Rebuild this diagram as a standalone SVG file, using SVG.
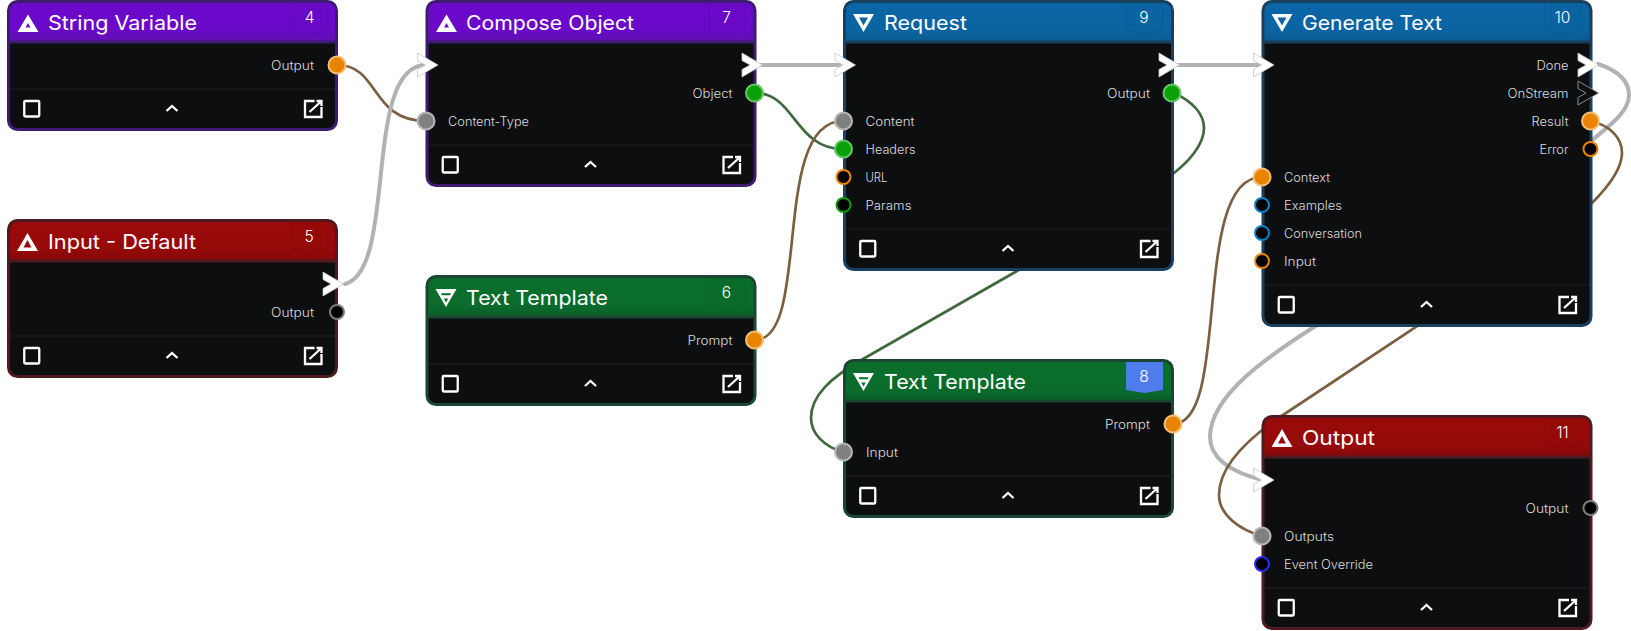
<svg xmlns="http://www.w3.org/2000/svg" width="1631" height="631" viewBox="0 0 1631 631">
<style>
text{font-family:"Inter","Noto Sans","Liberation Sans",sans-serif}
.t{font-size:20px;fill:#fff;font-weight:400}
.n{font-size:15.500px;fill:#fff;text-anchor:middle;font-weight:300}
.l{font-size:12.500px;fill:#dcdcdc;font-weight:300}
.r{text-anchor:end}
.w{fill:none;stroke-linecap:round}
.ex{stroke:#b2b2b2;stroke-width:4}
.br{stroke:#7a6042;stroke-width:2.700}
.gr{stroke:#42683f;stroke-width:2.700}
.body{fill:#0c0e10}
.frame{fill:none;stroke-width:3}
.div{stroke:#1e2126;stroke-width:1}
.ic{fill:none;stroke:#fff;stroke-width:2.300}
.tri{fill:#fff;fill-rule:evenodd}
.arrow{fill:#fff;stroke:#c8c8c8;stroke-width:.8;stroke-linejoin:round}
.arrow.off{fill:#0c0e10;stroke:#8a8a8a;stroke-width:1}
.po{fill:#e88400;stroke:#f6bd75;stroke-width:2}
.pg{fill:#0aa00a;stroke:#69c469;stroke-width:2}
.pa{fill:#808080;stroke:#b8b8b8;stroke-width:2}
.so{fill:#000;stroke:#e88400;stroke-width:2}
.sb{fill:#000;stroke:#0a84c8;stroke-width:2}
.sg{fill:#000;stroke:#0a9a0a;stroke-width:2}
.sv{fill:#000;stroke:#2b2bff;stroke-width:2}
.sa{fill:#000;stroke:#7c7c7c;stroke-width:2}
.purple .h{fill:url(#gp)}.purple .frame,.purple .sep{stroke:#3d1c70}
.red .h{fill:url(#gr)}.red .frame,.red .sep{stroke:#4e1a20}
.green .h{fill:url(#gg)}.green .frame,.green .sep{stroke:#1c4630}
.blue .h{fill:url(#gb)}.blue .frame,.blue .sep{stroke:#1a3f5c}
.b{fill:#000;fill-opacity:.012;stroke:#000;stroke-opacity:.05}
.sep{stroke-width:3}
.b8{fill:#4f7cec;stroke:none}
</style>
<defs>
<linearGradient id="gp" x1="0" y1="0" x2="0" y2="1"><stop offset="0" stop-color="#6c09cc"/><stop offset=".7" stop-color="#6a0ac8"/><stop offset="1" stop-color="#5f0fb0"/></linearGradient>
<linearGradient id="gr" x1="0" y1="0" x2="0" y2="1"><stop offset="0" stop-color="#9a0a0a"/><stop offset=".7" stop-color="#960a0a"/><stop offset="1" stop-color="#840808"/></linearGradient>
<linearGradient id="gg" x1="0" y1="0" x2="0" y2="1"><stop offset="0" stop-color="#0b6e2c"/><stop offset=".7" stop-color="#0b6c2c"/><stop offset="1" stop-color="#0a5f28"/></linearGradient>
<linearGradient id="gb" x1="0" y1="0" x2="0" y2="1"><stop offset="0" stop-color="#0b66a6"/><stop offset=".7" stop-color="#0b64a2"/><stop offset="1" stop-color="#0c5a90"/></linearGradient>
<path id="head" d="M2,42V9a7,7 0 0 1 7-7H322a7,7 0 0 1 7,7V42Z"/>
<path id="badge" d="M-18,3H19V31L0.500,34L-18,31Z"/>
<path id="up-solid" class="tri" d="M21,14.500L31.500,32H10.500ZM21,23L18.500,27.500H23.500Z"/>
<path id="up-line" class="tri" d="M20.500,14L31,32H10ZM20.500,21L16.500,28.500H24.500Z"/>
<path id="down-line" class="tri" d="M10,14H31L20.500,32ZM16,17.500L20.500,25.500L25,17.500Z"/>
<path id="down-band" class="tri" d="M10,14H31L20.500,32ZM15.500,18.300L16.500,20.300H24.500L25.500,18.300ZM18.200,23.500L20.500,27.500L22.800,23.500Z"/>
<path id="arrow" d="M-8,-12L12.500,0L-8,12L-8,4.500L0,0L-8,-4.500Z"/>
<g id="foot">
<rect class="ic" x="17.250" y="-30" width="15" height="15.500" rx="1"/>
<path class="ic" d="M159.500,-20L165,-25L170.500,-20"/>
<path class="ic" d="M307.500,-30H298V-14H314.500V-24M302.500,-19L314,-29.500M309.500,-30H314.500V-25"/>
</g>
</defs>

<g id="connectors">
<path class="w br" d="M337,65C380,65 370,121 426,121"/>
<path class="w ex" d="M345,284C398,270 362,65 426,65"/>
<path class="w ex" d="M745,65H846"/>
<path class="w ex" d="M1165,65H1264"/>
<path class="w gr" d="M755,93C795,93 795,149 843,149"/>
<path class="w br" d="M755,340C812,340 770,121 843,121"/>
<path class="w gr" d="M1174,93C1194,102 1204,115 1204,128C1204,145 1188,162 1174,173L1017,271L863,359C830,378 811,396 811,418C811,434 825,447 843,452"/>
<path class="w br" d="M1173,424C1232,424 1190,177 1262,177"/>
<path class="w ex" d="M1598,64C1616,70 1629,80 1629,95C1629,112 1610,125 1590,142L1314,327C1270,355 1210,395 1210,437C1210,460 1235,473 1262,480"/>
<path class="w br" d="M1590,121C1610,125 1622,138 1622,153C1622,170 1605,190 1592,203L1416,327L1283,415C1250,437 1219,465 1219,495C1219,515 1240,530 1262,536"/>
</g>

<g id="node-4" class="purple" transform="translate(7,0)">
<rect class="body" x="1.500" y="1.500" width="328" height="128" rx="9"/>
<use href="#head" class="h"/><path class="sep" d="M2,42H329"/>
<use href="#badge" class="b" x="302"/><text class="n" x="302.500" y="23">4</text>
<use href="#up-solid"/><text class="t" x="41" y="30" textLength="149" lengthAdjust="spacingAndGlyphs">String Variable</text>
<text class="l r" x="307" y="69.500" textLength="43" lengthAdjust="spacingAndGlyphs">Output</text>
<line class="div" x1="3" x2="328" y1="89" y2="89"/>
<use href="#foot" y="131"/>
<rect class="frame" x="1.500" y="1.500" width="328" height="128" rx="9"/>
<circle class="po" cx="330" cy="65" r="8.500"/>
</g>

<g id="node-5" class="red" transform="translate(7,219)">
<rect class="body" x="1.500" y="1.500" width="328" height="156" rx="9"/>
<use href="#head" class="h"/><path class="sep" d="M2,42H329"/>
<use href="#badge" class="b" x="302"/><text class="n" x="302" y="23">5</text>
<use href="#up-line"/><text class="t" x="41" y="30" textLength="148" lengthAdjust="spacingAndGlyphs">Input - Default</text>
<text class="l r" x="307" y="97.500" textLength="43" lengthAdjust="spacingAndGlyphs">Output</text>
<line class="div" x1="3" x2="328" y1="117" y2="117"/>
<use href="#foot" y="159"/>
<rect class="frame" x="1.500" y="1.500" width="328" height="156" rx="9"/>
<use href="#arrow" class="arrow" x="324" y="65"/>
<circle class="sa" cx="330" cy="93" r="7"/>
</g>

<g id="node-7" class="purple" transform="translate(425.500,0)">
<rect class="body" x="1.500" y="1.500" width="328" height="184" rx="9"/>
<use href="#head" class="h"/><path class="sep" d="M2,42H329"/>
<use href="#badge" class="b" x="301"/><text class="n" x="301" y="23">7</text>
<use href="#up-solid"/><text class="t" x="40.500" y="30" textLength="168" lengthAdjust="spacingAndGlyphs">Compose Object</text>
<text class="l r" x="307" y="97.500" textLength="40" lengthAdjust="spacingAndGlyphs">Object</text>
<text class="l" x="22.500" y="125.500" textLength="81" lengthAdjust="spacingAndGlyphs">Content-Type</text>
<line class="div" x1="3" x2="328" y1="145" y2="145"/>
<use href="#foot" y="187"/>
<rect class="frame" x="1.500" y="1.500" width="328" height="184" rx="9"/>
<use href="#arrow" class="arrow" x="0" y="65"/>
<use href="#arrow" class="arrow" x="324.500" y="65"/>
<circle class="pg" cx="329" cy="93" r="8.500"/>
<circle class="pa" cx="0.500" cy="121" r="8.500"/>
</g>

<g id="node-6" class="green" transform="translate(425.500,275)">
<rect class="body" x="1.500" y="1.500" width="328" height="128" rx="9"/>
<use href="#head" class="h"/><path class="sep" d="M2,42H329"/>
<use href="#badge" class="b" x="301"/><text class="n" x="301" y="23">6</text>
<use href="#down-band"/><text class="t" x="40.500" y="30" textLength="142" lengthAdjust="spacingAndGlyphs">Text Template</text>
<text class="l r" x="307" y="69.500" textLength="45" lengthAdjust="spacingAndGlyphs">Prompt</text>
<line class="div" x1="3" x2="328" y1="89" y2="89"/>
<use href="#foot" y="131"/>
<rect class="frame" x="1.500" y="1.500" width="328" height="128" rx="9"/>
<circle class="po" cx="329" cy="65" r="8.500"/>
</g>

<g id="node-9" class="blue" transform="translate(843,0)">
<rect class="body" x="1.500" y="1.500" width="328" height="268" rx="9"/>
<use href="#head" class="h"/><path class="sep" d="M2,42H329"/>
<use href="#badge" class="b" x="301"/><text class="n" x="301" y="23">9</text>
<use href="#down-line"/><text class="t" x="41" y="30" textLength="83" lengthAdjust="spacingAndGlyphs">Request</text>
<text class="l r" x="307" y="97.500" textLength="43" lengthAdjust="spacingAndGlyphs">Output</text>
<text class="l" x="22.500" y="125.500" textLength="49" lengthAdjust="spacingAndGlyphs">Content</text>
<text class="l" x="22.500" y="153.500" textLength="50" lengthAdjust="spacingAndGlyphs">Headers</text>
<text class="l" x="22.500" y="181.500" textLength="22" lengthAdjust="spacingAndGlyphs">URL</text>
<text class="l" x="22.500" y="209.500" textLength="46" lengthAdjust="spacingAndGlyphs">Params</text>
<line class="div" x1="3" x2="328" y1="229" y2="229"/>
<use href="#foot" y="271"/>
<rect class="frame" x="1.500" y="1.500" width="328" height="268" rx="9"/>
<use href="#arrow" class="arrow" x="0" y="65"/>
<use href="#arrow" class="arrow" x="324" y="65"/>
<circle class="pg" cx="329" cy="93" r="8.500"/>
<circle class="pa" cx="0.500" cy="121" r="8.500"/>
<circle class="pg" cx="0.500" cy="149" r="8.500"/>
<circle class="so" cx="0.500" cy="177" r="7"/>
<circle class="sg" cx="0.500" cy="205" r="7"/>
</g>

<g id="node-8" class="green" transform="translate(843,359)">
<rect class="body" x="1.500" y="1.500" width="328" height="156" rx="9"/>
<use href="#head" class="h"/><path class="sep" d="M2,42H329"/>
<use href="#badge" class="b8" x="301"/><text class="n" x="301" y="23">8</text>
<use href="#down-band"/><text class="t" x="41" y="30" textLength="142" lengthAdjust="spacingAndGlyphs">Text Template</text>
<text class="l r" x="307" y="69.500" textLength="45" lengthAdjust="spacingAndGlyphs">Prompt</text>
<text class="l" x="23" y="97.500" textLength="32" lengthAdjust="spacingAndGlyphs">Input</text>
<line class="div" x1="3" x2="328" y1="117" y2="117"/>
<use href="#foot" y="159"/>
<rect class="frame" x="1.500" y="1.500" width="328" height="156" rx="9"/>
<circle class="po" cx="330" cy="65" r="8.500"/>
<circle class="pa" cx="0.500" cy="93" r="8.500"/>
</g>

<g id="node-10" class="blue" transform="translate(1261.500,0)">
<rect class="body" x="1.500" y="1.500" width="328" height="324" rx="9"/>
<use href="#head" class="h"/><path class="sep" d="M2,42H329"/>
<use href="#badge" class="b" x="301"/><text class="n" x="301" y="23">10</text>
<use href="#down-line"/><text class="t" x="40.500" y="30" textLength="140" lengthAdjust="spacingAndGlyphs">Generate Text</text>
<text class="l r" x="307" y="69.500" textLength="32" lengthAdjust="spacingAndGlyphs">Done</text>
<text class="l r" x="307" y="97.500" textLength="61" lengthAdjust="spacingAndGlyphs">OnStream</text>
<text class="l r" x="307" y="125.500" textLength="37" lengthAdjust="spacingAndGlyphs">Result</text>
<text class="l r" x="307" y="153.500" textLength="29" lengthAdjust="spacingAndGlyphs">Error</text>
<text class="l" x="22.500" y="181.500" textLength="46" lengthAdjust="spacingAndGlyphs">Context</text>
<text class="l" x="22.500" y="209.500" textLength="58" lengthAdjust="spacingAndGlyphs">Examples</text>
<text class="l" x="22.500" y="237.500" textLength="78" lengthAdjust="spacingAndGlyphs">Conversation</text>
<text class="l" x="22.500" y="265.500" textLength="32" lengthAdjust="spacingAndGlyphs">Input</text>
<line class="div" x1="3" x2="328" y1="285" y2="285"/>
<use href="#foot" y="327"/>
<rect class="frame" x="1.500" y="1.500" width="328" height="324" rx="9"/>
<use href="#arrow" class="arrow" x="0" y="65"/>
<use href="#arrow" class="arrow" x="324.500" y="65"/>
<use href="#arrow" class="arrow off" x="324.500" y="93"/>
<circle class="po" cx="329" cy="121" r="8.500"/>
<circle class="so" cx="329" cy="149" r="7"/>
<circle class="po" cx="0.500" cy="177" r="8.500"/>
<circle class="sb" cx="0.500" cy="205" r="7"/>
<circle class="sb" cx="0.500" cy="233" r="7"/>
<circle class="so" cx="0.500" cy="261" r="7"/>
</g>

<g id="node-11" class="red" transform="translate(1261.500,415)">
<rect class="body" x="1.500" y="1.500" width="328" height="212" rx="9"/>
<use href="#head" class="h"/><path class="sep" d="M2,42H329"/>
<use href="#badge" class="b" x="301"/><text class="n" x="301" y="23">11</text>
<use href="#up-line"/><text class="t" x="40.500" y="30" textLength="73" lengthAdjust="spacingAndGlyphs">Output</text>
<text class="l r" x="307" y="97.500" textLength="43" lengthAdjust="spacingAndGlyphs">Output</text>
<text class="l" x="22.500" y="125.500" textLength="50" lengthAdjust="spacingAndGlyphs">Outputs</text>
<text class="l" x="22.500" y="153.500" textLength="89" lengthAdjust="spacingAndGlyphs">Event Override</text>
<line class="div" x1="3" x2="328" y1="173" y2="173"/>
<use href="#foot" y="215"/>
<rect class="frame" x="1.500" y="1.500" width="328" height="212" rx="9"/>
<use href="#arrow" class="arrow" x="0" y="65"/>
<circle class="sa" cx="329" cy="93" r="7"/>
<circle class="pa" cx="0.500" cy="121" r="8.500"/>
<circle class="sv" cx="0.500" cy="149" r="7"/>
</g>
</svg>
